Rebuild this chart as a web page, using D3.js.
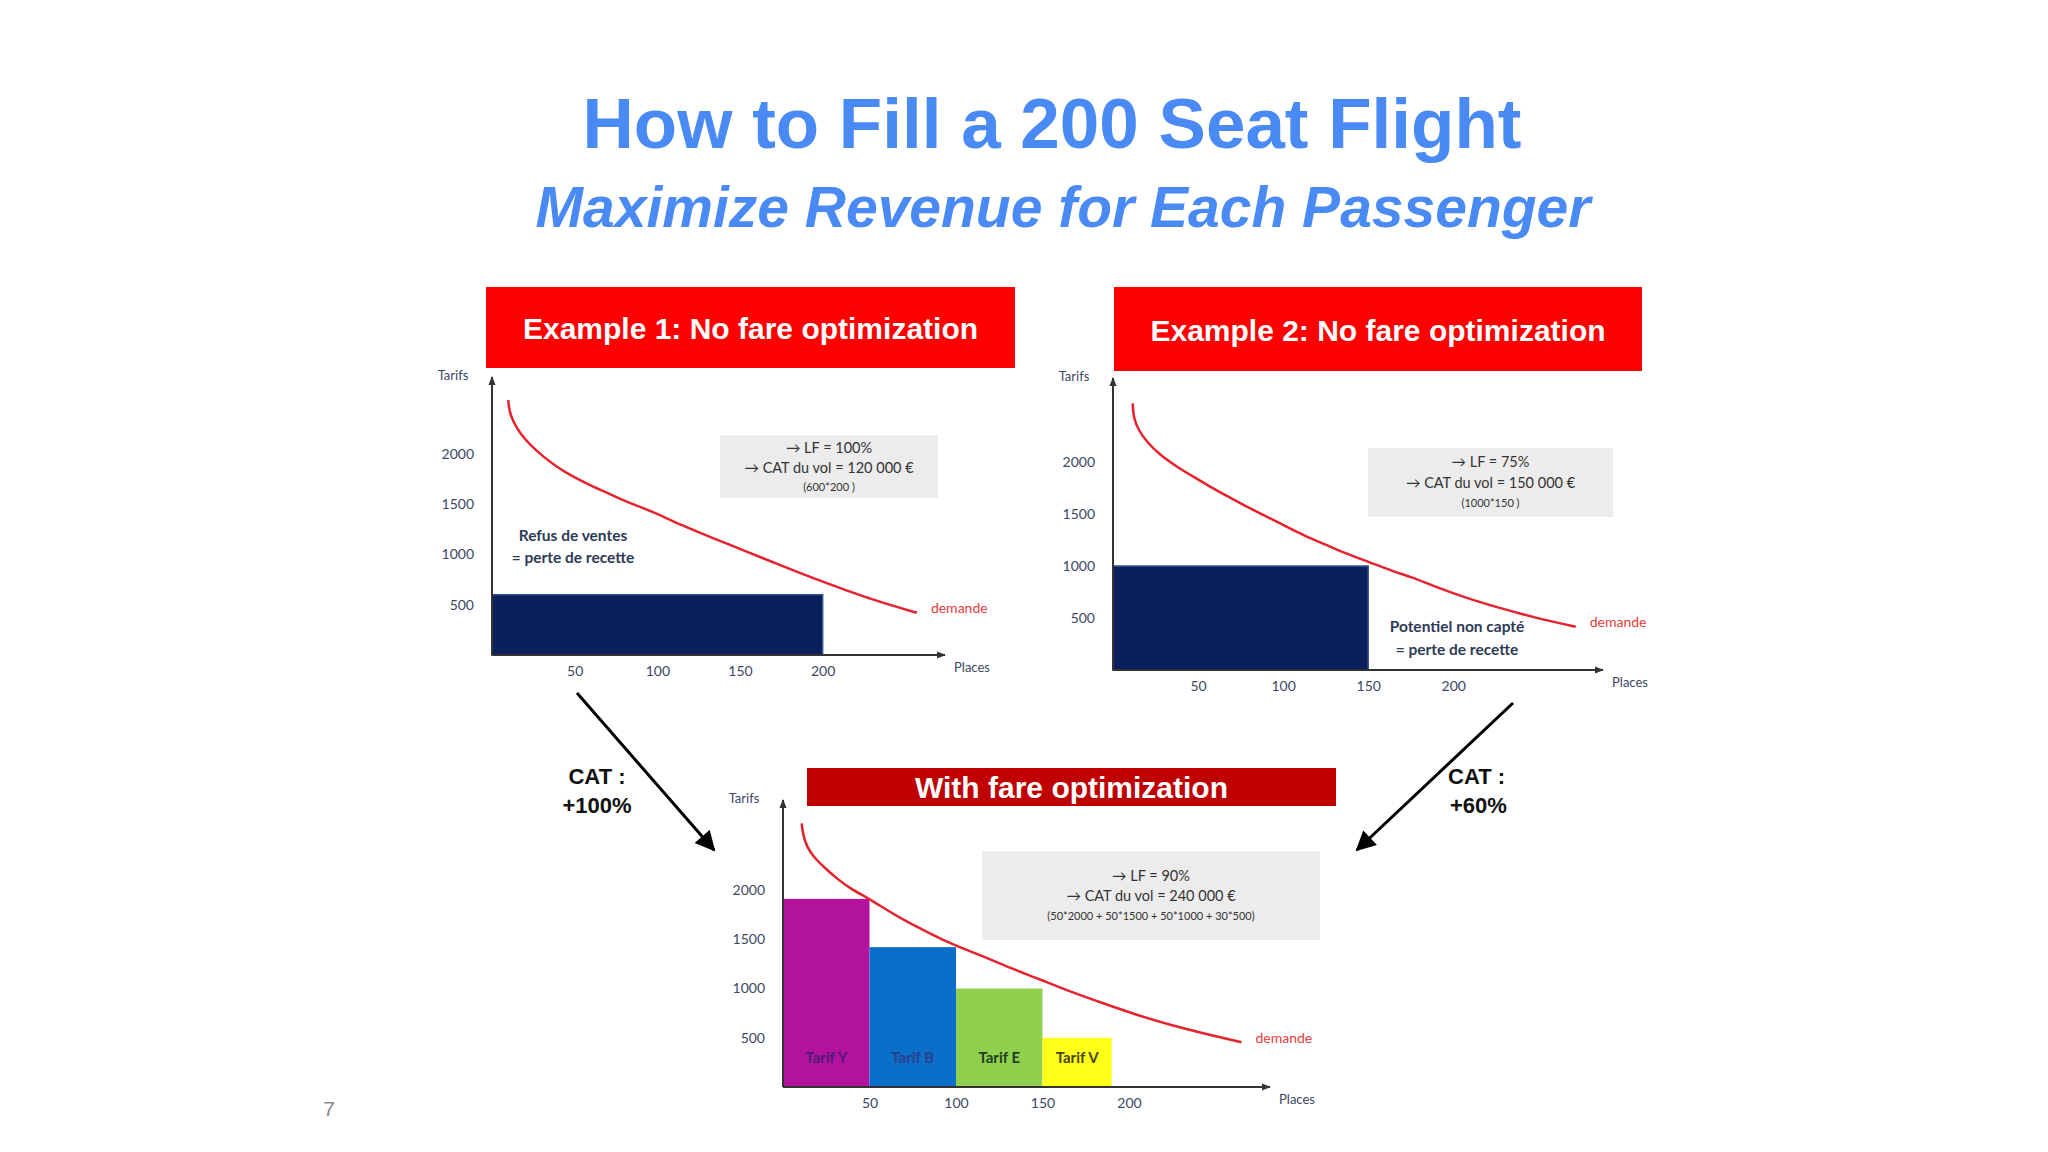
<!DOCTYPE html>
<html>
<head>
<meta charset="utf-8">
<script src="https://cdn.jsdelivr.net/npm/d3@7"></script>
<style>
  body { margin: 0; background: #fff; }
  svg { display: block; }
  .tick text { font-family: Lato, sans-serif; font-size: 14px; fill: #3d4763; }
</style>
</head>
<body>
<div id="canvas"></div>
<script>
// values
const yTicks = [500, 1000, 1500, 2000];
const xTicks = [50, 100, 150, 200];

// demand curves, [places, tarif]
const demand1 = [[9.8, 2537], [10.5, 2421], [12.9, 2321], [16.9, 2206], [23, 2090], [31, 1973], [39, 1874],
  [49, 1774], [59, 1692], [69, 1619], [79, 1542], [89, 1476], [99.5, 1410], [114, 1295], [134, 1160],
  [154, 1030], [174, 895], [194, 765], [214, 645], [234, 530], [257, 420]];
const demand2 = [[11.6, 2564], [11.9, 2436], [14.9, 2308], [19.8, 2195], [27.6, 2067], [37.5, 1955], [47.2, 1859],
  [57, 1763], [67, 1673], [76.6, 1587], [86.5, 1506], [96.3, 1426], [106, 1346], [116, 1266], [125.7, 1202],
  [135.5, 1128], [150, 1042], [165, 946], [175, 897], [188, 810], [208, 690], [228, 593], [247, 507], [272, 416]];
const demand3 = [[10.8, 2677], [11.4, 2576], [13.7, 2440], [17.6, 2338], [23.4, 2237], [31, 2118], [38.7, 2017],
  [49.3, 1916], [60, 1797], [71.5, 1678], [83, 1577], [94.6, 1475], [106, 1391], [114, 1340], [127, 1239],
  [149.5, 1086], [166, 968], [185, 850], [204.5, 731], [224, 629], [243, 545], [265, 454]];

const ex1Places = [200];
const ex1Tarifs = [600];
const ex2Places = [150];
const ex2Tarifs = [1000];

const fareClasses = ["Tarif Y", "Tarif B", "Tarif E", "Tarif V"];
const fareSeats = [50, 50, 50, 40];
const fareTarifs = [1910, 1420, 1000, 500];
const fareColors = ["#b2129e", "#0b6ec8", "#8fd14e", "#ffff1a"];
const fareTextColors = ["#4e1d78", "#2b3f8c", "#1f3f1f", "#45450f"];

const box1Lines = ["\u2192 LF = 100%", "\u2192 CAT du vol = 120 000 \u20ac", "(600*200 )"];
const box2Lines = ["\u2192 LF = 75%", "\u2192 CAT du vol = 150 000 \u20ac", "(1000*150 )"];
const box3Lines = ["\u2192 LF = 90%", "\u2192 CAT du vol = 240 000 \u20ac", "(50*2000 + 50*1500 + 50*1000 + 30*500)"];

const W = 2048, H = 1152;
const svg = d3.select("#canvas").append("svg").attr("width", W).attr("height", H);

const defs = svg.append("defs");
defs.append("marker").attr("id", "axArrow")
  .attr("viewBox", "0 0 10 10").attr("refX", 9).attr("refY", 5)
  .attr("markerWidth", 9).attr("markerHeight", 9).attr("markerUnits", "userSpaceOnUse")
  .attr("orient", "auto")
  .append("path").attr("d", "M0,1 L10,5 L0,9 Z").attr("fill", "#333");
defs.append("marker").attr("id", "bigArrow")
  .attr("viewBox", "0 0 10 10").attr("refX", 9).attr("refY", 5)
  .attr("markerWidth", 22).attr("markerHeight", 20).attr("markerUnits", "userSpaceOnUse")
  .attr("orient", "auto")
  .append("path").attr("d", "M0,0 L10,5 L0,10 Z").attr("fill", "#000");

// title
const titleFont = "'Liberation Sans', Arial, sans-serif";
svg.append("text").attr("x", 1052).attr("y", 148).attr("text-anchor", "middle")
  .style("font-family", titleFont).style("font-weight", "bold").style("font-size", "71px")
  .style("fill", "#4a8af4").text("How to Fill a 200 Seat Flight");
svg.append("text").attr("x", 1063).attr("y", 227).attr("text-anchor", "middle")
  .style("font-family", titleFont).style("font-weight", "bold").style("font-style", "italic")
  .style("font-size", "57px").style("fill", "#4a8af4").text("Maximize Revenue for Each Passenger");

svg.append("text").attr("x", 329).attr("y", 1116).attr("text-anchor", "middle")
  .style("font-family", titleFont).style("font-size", "21px").style("fill", "#8a8a8a").text("7");

function panel(p) {
  const g = svg.append("g");
  const x = d3.scaleLinear().domain([0, p.xMax]).range([p.ax, p.axEnd]);
  const y = d3.scaleLinear().domain([0, p.yMax]).range([p.ay, p.ayTop]);

  // header
  g.append("rect").attr("x", p.hx).attr("y", p.hy).attr("width", p.hw).attr("height", p.hh).attr("fill", p.hColor);
  g.append("text").attr("x", p.hx + p.hw / 2).attr("y", p.hBase).attr("text-anchor", "middle")
    .style("font-family", titleFont).style("font-weight", "bold").style("font-size", "30px")
    .style("fill", "#fff").text(p.title);

  // info box
  g.append("rect").attr("x", p.box[0]).attr("y", p.box[1]).attr("width", p.box[2]).attr("height", p.box[3])
    .attr("fill", "#ececec");
  p.boxLines.forEach((t, i) => {
    g.append("text").attr("x", p.box[0] + p.box[2] / 2).attr("y", p.box[1] + p.boxY[i])
      .attr("text-anchor", "middle").attr("dominant-baseline", "middle")
      .style("font-family", "Lato, sans-serif").style("font-size", i < 2 ? "14.5px" : "11px")
      .style("fill", "#333").text(t);
  });

  // bars
  const starts = [0].concat(Array.from(d3.cumsum(p.seats))).slice(0, p.seats.length);
  g.selectAll("rect.bar").data(p.seats).enter().append("rect")
    .attr("class", "bar")
    .attr("x", (d, i) => x(starts[i]))
    .attr("y", (d, i) => y(p.tarifs[i]))
    .attr("width", (d, i) => x(starts[i] + d) - x(starts[i]))
    .attr("height", (d, i) => y(0) - y(p.tarifs[i]))
    .attr("fill", (d, i) => p.colors[i])
    .attr("stroke", p.barStroke || "none").attr("stroke-width", 1.5);

  if (p.labels) {
    g.selectAll("text.bl").data(p.labels).enter().append("text")
      .attr("class", "bl")
      .attr("x", (d, i) => x(starts[i] + p.seats[i] / 2))
      .attr("y", p.ay - 28).attr("text-anchor", "middle").attr("dominant-baseline", "middle")
      .style("font-family", "Lato, sans-serif").style("font-weight", "bold").style("font-size", "15px")
      .style("fill", (d, i) => fareTextColors[i]).text(d => d);
  }

  // demand curve
  const line = d3.line().x(d => x(d[0])).y(d => y(d[1])).curve(d3.curveBasis);
  g.append("path").datum(p.demand).attr("d", line)
    .attr("fill", "none").attr("stroke", "#e6222c").attr("stroke-width", 2.5);
  const last = p.demand[p.demand.length - 1];
  g.append("text").attr("x", x(last[0]) + 14).attr("y", y(last[1]) - 3)
    .attr("dominant-baseline", "middle")
    .style("font-family", "Lato, sans-serif").style("font-size", "14px").style("fill", "#e43b3b")
    .text("demande");

  // axes
  g.append("g").attr("transform", `translate(${p.ax},0)`)
    .call(d3.axisLeft(y).tickValues(yTicks).tickFormat(d3.format("d")).tickSize(0).tickPadding(18))
    .call(a => a.select(".domain").remove());
  g.append("g").attr("transform", `translate(0,${p.ay})`)
    .call(d3.axisBottom(x).tickValues(xTicks).tickFormat(d3.format("d")).tickSize(0).tickPadding(11))
    .call(a => a.select(".domain").remove());

  g.append("line").attr("x1", p.ax).attr("y1", p.ay).attr("x2", p.axEnd).attr("y2", p.ay)
    .attr("stroke", "#333").attr("stroke-width", 2).attr("marker-end", "url(#axArrow)");
  g.append("line").attr("x1", p.ax).attr("y1", p.ay).attr("x2", p.ax).attr("y2", p.ayTop)
    .attr("stroke", "#333").attr("stroke-width", 2).attr("marker-end", "url(#axArrow)");

  g.append("text").attr("x", p.ax - 39).attr("y", p.ayTop).attr("text-anchor", "middle")
    .attr("dominant-baseline", "middle")
    .style("font-family", "Lato, sans-serif").style("font-size", "13px").style("fill", "#3d4763").text("Tarifs");
  g.append("text").attr("x", p.axEnd + 27).attr("y", p.ay + 14).attr("text-anchor", "middle")
    .attr("dominant-baseline", "middle")
    .style("font-family", "Lato, sans-serif").style("font-size", "13px").style("fill", "#3d4763").text("Places");

  // note
  if (p.note) {
    p.note.forEach((t, i) => {
      g.append("text").attr("x", p.noteX).attr("y", p.noteY[i]).attr("text-anchor", "middle")
        .attr("dominant-baseline", "middle")
        .style("font-family", "Lato, sans-serif").style("font-weight", "bold").style("font-size", "15.5px")
        .style("fill", "#2e3a56").text(t);
    });
  }
}

panel({
  ax: 492, ay: 655, axEnd: 945, ayTop: 377, xMax: 274, yMax: 2766,
  hx: 486, hy: 287, hw: 529, hh: 81, hColor: "#fe0000", hBase: 339,
  title: "Example 1: No fare optimization",
  box: [720, 435, 218, 63], boxY: [14, 34, 53], boxLines: box1Lines,
  seats: ex1Places, tarifs: ex1Tarifs, colors: ["#0b1f5c"], barStroke: "#34558f",
  demand: demand1,
  note: ["Refus de ventes", "= perte de recette"], noteX: 573, noteY: [537, 559]
});

panel({
  ax: 1113, ay: 670, axEnd: 1603, ayTop: 378, xMax: 288, yMax: 2808,
  hx: 1114, hy: 287, hw: 528, hh: 84, hColor: "#fe0000", hBase: 341,
  title: "Example 2: No fare optimization",
  box: [1368, 448, 245, 69], boxY: [15, 36, 56], boxLines: box2Lines,
  seats: ex2Places, tarifs: ex2Tarifs, colors: ["#0b1f5c"], barStroke: "#34558f",
  demand: demand2,
  note: ["Potentiel non capt\u00e9", "= perte de recette"], noteX: 1457, noteY: [628, 651]
});

panel({
  ax: 783, ay: 1087, axEnd: 1270, ayTop: 800, xMax: 281.5, yMax: 2914,
  hx: 807, hy: 768, hw: 529, hh: 38, hColor: "#c00000", hBase: 798,
  title: "With fare optimization",
  box: [982, 851, 338, 89], boxY: [26, 46, 66], boxLines: box3Lines,
  seats: fareSeats, tarifs: fareTarifs, colors: fareColors, labels: fareClasses,
  demand: demand3
});

// CAT arrows
svg.append("line").attr("x1", 577).attr("y1", 693).attr("x2", 714).attr("y2", 850)
  .attr("stroke", "#000").attr("stroke-width", 3).attr("marker-end", "url(#bigArrow)");
svg.append("line").attr("x1", 1513).attr("y1", 703).attr("x2", 1357).attr("y2", 850)
  .attr("stroke", "#000").attr("stroke-width", 3).attr("marker-end", "url(#bigArrow)");

const catStyle = s => s.style("font-family", titleFont).style("font-weight", "bold")
  .style("font-size", "22px").style("fill", "#111");
svg.append("text").attr("x", 597).attr("y", 784).attr("text-anchor", "middle").call(catStyle).text("CAT :");
svg.append("text").attr("x", 597).attr("y", 813).attr("text-anchor", "middle").call(catStyle).text("+100%");
svg.append("text").attr("x", 1448).attr("y", 784).call(catStyle).text("CAT :");
svg.append("text").attr("x", 1450).attr("y", 813).call(catStyle).text("+60%");
</script>
</body>
</html>
